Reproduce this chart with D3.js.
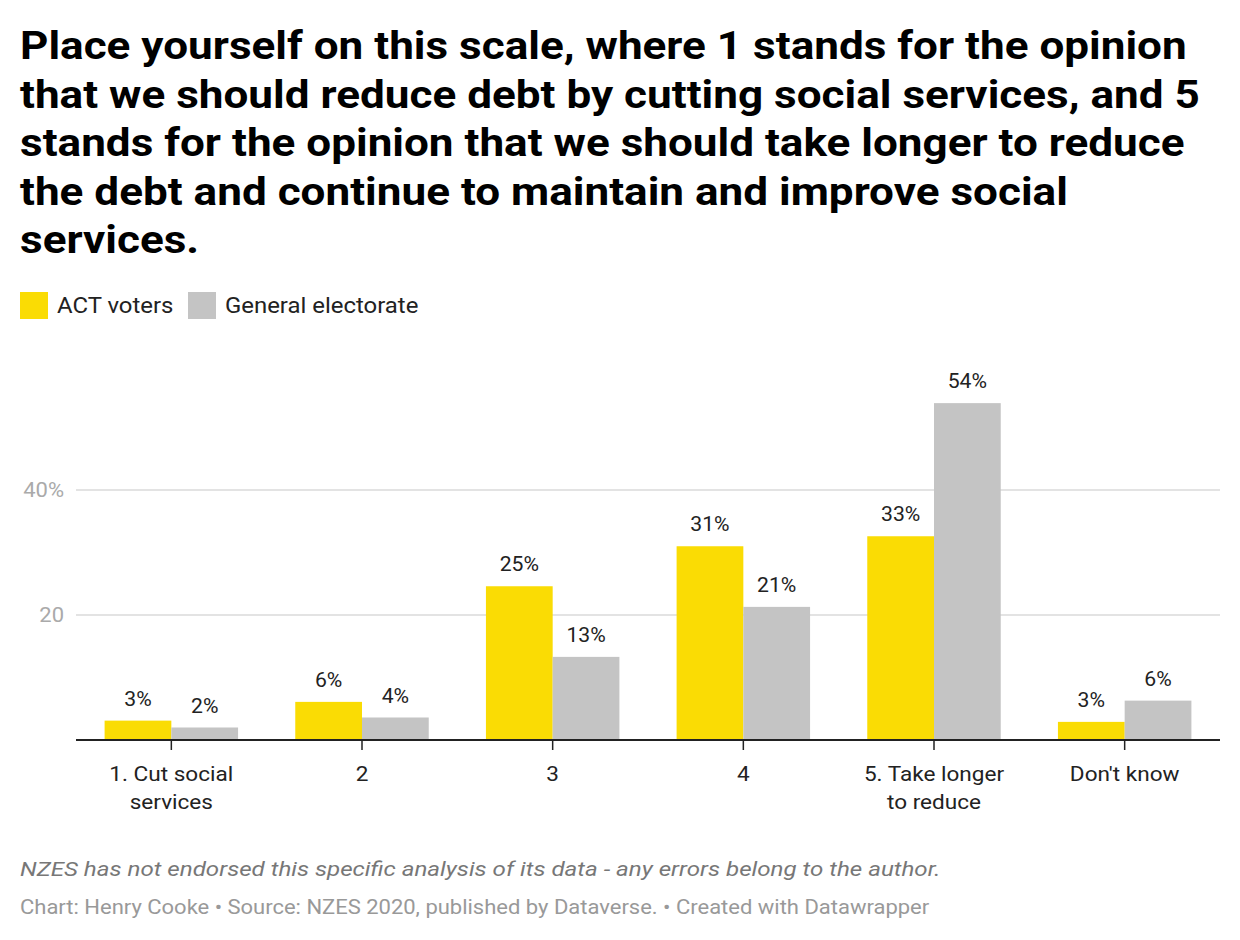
<!DOCTYPE html>
<html>
<head>
<meta charset="utf-8">
<script src="https://cdn.jsdelivr.net/npm/d3@7"></script>
<style>
  body { margin: 0; background: #fff; font-family: Roboto, "Noto Sans", sans-serif; }
</style>
</head>
<body>
<script>
const categories = [["1. Cut social", "services"], ["2"], ["3"], ["4"], ["5. Take longer", "to reduce"], ["Don't know"]];
const series = ["ACT voters", "General electorate"];
const actValues = [3.1, 6.1, 24.6, 31.0, 32.6, 2.9];
const generalValues = [2.0, 3.6, 13.3, 21.3, 53.9, 6.3];
const actLabels = ["3%", "6%", "25%", "31%", "33%", "3%"];
const generalLabels = ["2%", "4%", "13%", "21%", "54%", "6%"];
const yTicks = [20, 40];
const colors = ["#fadc04", "#c4c4c4"];

const titleLines = [
  "Place yourself on this scale, where 1 stands for the opinion",
  "that we should reduce debt by cutting social services, and 5",
  "stands for the opinion that we should take longer to reduce",
  "the debt and continue to maintain and improve social",
  "services."
];

const width = 1240, height = 940;
const svg = d3.select("body").append("svg")
  .attr("width", width).attr("height", height);

// text in the reference is a little wider than Roboto, so stretch it sideways
const at = (x, y, s) => `translate(${x},${y}) scale(${s},1)`;

// title
svg.append("g").selectAll("text")
  .data(titleLines).enter().append("text")
  .attr("transform", (d, i) => at(20, 59 + i * 48.5, 1.13))
  .attr("font-size", 39)
  .attr("font-weight", 700)
  .attr("fill", "#000")
  .text(d => d);

// legend
const legend = svg.append("g");
const legendX = [20, 188];
series.forEach((s, i) => {
  legend.append("rect")
    .attr("x", legendX[i]).attr("y", 292)
    .attr("width", 28).attr("height", 27)
    .attr("fill", colors[i]);
  legend.append("text")
    .attr("transform", at(legendX[i] + 37, 313, 1.088))
    .attr("font-size", 22).attr("fill", "#222")
    .text(s);
});

// scales
const x0 = d3.scaleBand()
  .domain(d3.range(categories.length))
  .range([76, 1220])
  .paddingInner(0.3)
  .paddingOuter(0.15);
const x1 = d3.scaleBand()
  .domain([0, 1])
  .range([0, x0.bandwidth()]);
const y = d3.scaleLinear().domain([0, 56]).range([740, 390]);

// grid
const grid = svg.append("g");
grid.selectAll("line").data(yTicks).enter().append("line")
  .attr("x1", 76).attr("x2", 1220)
  .attr("y1", d => y(d)).attr("y2", d => y(d))
  .attr("stroke", "#e3e3e3").attr("stroke-width", 2);
grid.selectAll("text").data(yTicks).enter().append("text")
  .attr("transform", d => at(64, y(d) + 7, 1.1))
  .attr("text-anchor", "end")
  .attr("font-size", 20).attr("fill", "#aaa")
  .text(d => d === 40 ? "40%" : d);

// bars
const rows = categories.map((c, i) => ({
  i, vals: [actValues[i], generalValues[i]], labels: [actLabels[i], generalLabels[i]]
}));
const groups = svg.append("g").selectAll("g").data(rows).enter().append("g")
  .attr("transform", d => `translate(${x0(d.i)},0)`);

groups.selectAll("rect")
  .data(d => d.vals.map((v, k) => ({ v, k })))
  .enter().append("rect")
  .attr("x", d => x1(d.k))
  .attr("width", x1.bandwidth())
  .attr("y", d => y(d.v))
  .attr("height", d => y(0) - y(d.v))
  .attr("fill", d => colors[d.k]);

groups.selectAll("text.val")
  .data(d => d.vals.map((v, k) => ({ v, k, label: d.labels[k] })))
  .enter().append("text")
  .attr("class", "val")
  .attr("transform", d => at(x1(d.k) + x1.bandwidth() / 2, y(d.v) - 15, 1.06))
  .attr("text-anchor", "middle")
  .attr("font-size", 20).attr("fill", "#222")
  .text(d => d.label);

// x axis
const xAxis = svg.append("g")
  .attr("transform", `translate(0,${y(0)})`)
  .call(d3.axisBottom(x0).tickSize(10).tickSizeOuter(0).tickFormat(""));
xAxis.select(".domain").attr("stroke", "#222").attr("stroke-width", 2)
  .attr("d", "M76,0H1220");
xAxis.selectAll(".tick line").attr("stroke", "#222").attr("stroke-width", 1.5);

const xLabels = svg.append("g").selectAll("text").data(categories).enter().append("text")
  .attr("transform", (d, i) => at(x0(i) + x0.bandwidth() / 2, 781, 1.075))
  .attr("text-anchor", "middle")
  .attr("font-size", 21).attr("fill", "#222");
xLabels.selectAll("tspan").data(d => d).enter().append("tspan")
  .attr("x", 0)
  .attr("dy", (d, i) => i === 0 ? 0 : 28)
  .text(d => d);

// footer
svg.append("text")
  .attr("transform", at(20, 876, 1.15))
  .attr("font-size", 21).attr("font-style", "italic").attr("fill", "#777")
  .text("NZES has not endorsed this specific analysis of its data - any errors belong to the author.");
svg.append("text")
  .attr("transform", at(20, 914, 1.128))
  .attr("font-size", 19.5).attr("fill", "#999")
  .text("Chart: Henry Cooke • Source: NZES 2020, published by Dataverse. • Created with Datawrapper");
</script>
</body>
</html>
